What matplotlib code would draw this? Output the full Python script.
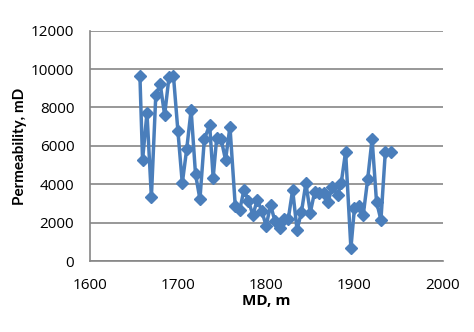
import matplotlib
matplotlib.use("Agg")
import matplotlib.pyplot as plt

# measured depth, m
md = [1657, 1660, 1665, 1670, 1675, 1680, 1685, 1690, 1695, 1700,
      1705, 1710, 1715, 1720, 1725, 1730, 1736, 1740, 1744, 1749,
      1754, 1759, 1765, 1770, 1775, 1780, 1785, 1790, 1795, 1800,
      1805, 1810, 1816, 1820, 1825, 1830, 1835, 1840, 1845, 1850,
      1855, 1860, 1865, 1870, 1875, 1881, 1885, 1890, 1896, 1900,
      1905, 1910, 1915, 1920, 1925, 1930, 1935, 1941]

# permeability, mD
perm = [9650, 5270, 7730, 3330, 8650, 9210, 7610, 9600, 9640, 6800,
        4060, 5830, 7870, 4520, 3230, 6360, 7080, 4350, 6430, 6350,
        5270, 7000, 2880, 2670, 3730, 3120, 2410, 3200, 2620, 1840,
        2930, 2080, 1720, 2200, 2180, 3710, 1630, 2570, 4060, 2530,
        3620, 3560, 3570, 3080, 3880, 3450, 4060, 5700, 680, 2760,
        2880, 2410, 4270, 6360, 3100, 2150, 5700, 5700]

xticks = [1600, 1700, 1800, 1900, 2000]
yticks = [0, 2000, 4000, 6000, 8000, 10000, 12000]

plt.rcParams['font.family'] = ['Open Sans', 'DejaVu Sans']

fig = plt.figure(figsize=(4.74, 3.32), dpi=100)
ax = fig.add_axes([0.189, 0.213, 0.745, 0.695])

ax.plot(md, perm, color='#4a7ebb', linewidth=2.5, marker='D',
        markersize=6.5, markerfacecolor='#4a7ebb', markeredgecolor='#4a7ebb',
        zorder=3)

ax.set_xlim(1600, 2000)
ax.set_ylim(0, 12000)
ax.set_xticks(xticks)
ax.set_yticks(yticks)
ax.tick_params(length=0, labelsize=11)
ax.tick_params(axis='x', pad=12)
ax.tick_params(axis='y', pad=11)
ax.yaxis.grid(True, color='#868686', linewidth=1.2)
ax.set_axisbelow(True)

for s in ['top', 'right']:
    ax.spines[s].set_visible(False)
for s in ['left', 'bottom']:
    ax.spines[s].set_color('#868686')
    ax.spines[s].set_linewidth(1.2)

ax.set_xlabel("MD, m", fontsize=11, fontweight='bold', labelpad=1)
# narrower font for the long y label (Calibri-like width)
ax.set_ylabel("Permeability, mD", fontsize=11, fontweight='bold',
              family=['Lato', 'DejaVu Sans'], labelpad=3)

fig.savefig("out.png", dpi=100)
